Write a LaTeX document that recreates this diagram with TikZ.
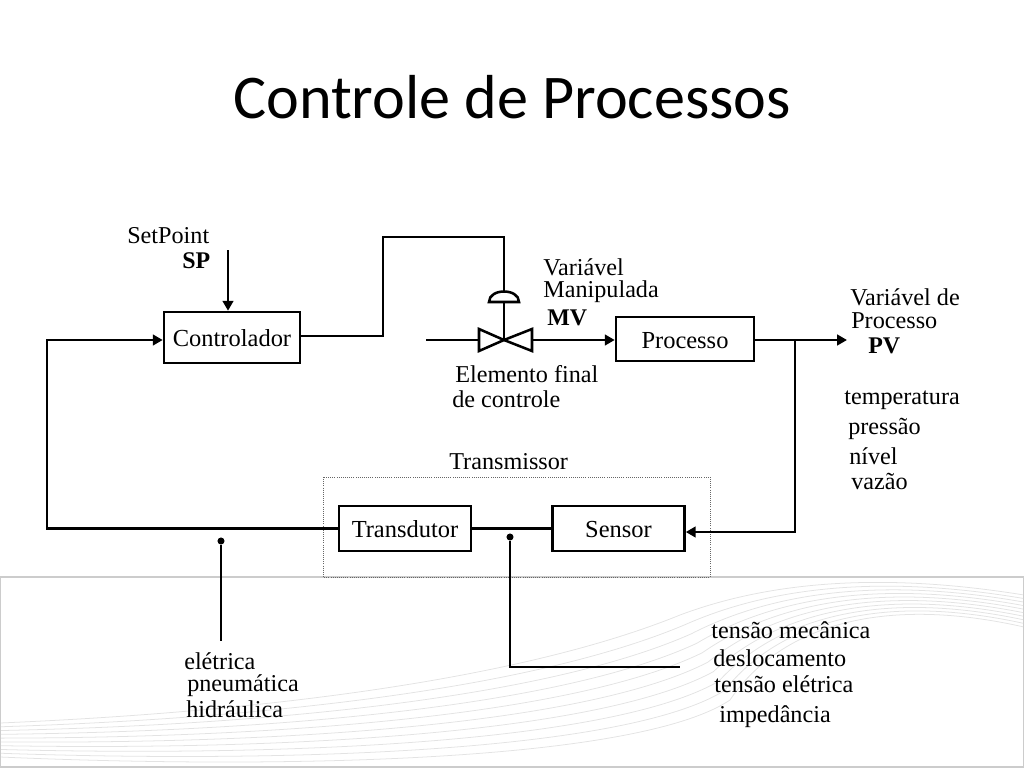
\documentclass[tikz,border=0pt]{standalone}
\usepackage{fontspec}
\setmainfont{Liberation Serif}
\newfontfamily\titlefont{Carlito}
\usetikzlibrary{arrows.meta}

\begin{document}
\begin{tikzpicture}[x=0.025cm, y=-0.025cm,
  line/.style={line width=1.8pt},
  flow/.style={line, -{Triangle[length=7pt,width=7.5pt]}},
  blockbox/.style={draw, line width=1.8pt, font=\fontsize{17.4}{17}\selectfont, text height=13.5pt, text depth=0pt, inner sep=0pt},
  txt/.style={anchor=base west, inner sep=0pt, font=\fontsize{17.2}{17}\selectfont},
  txtb/.style={txt, font=\fontsize{17}{17}\selectfont\bfseries},
  wave/.style={draw=black!11, line width=0.55pt},
  dot/.style={circle, fill=black, minimum size=5pt, inner sep=0pt}]
\useasboundingbox (0,0) rectangle (1024,768);

% background panel
\draw[black!20, line width=0.9pt] (0.5,577) rectangle (1023.5,767);
\begin{scope}
\clip (1,578) rectangle (1023,766);
\foreach \i in {0,...,9} {
  \pgfmathsetmacro{\t}{\i/9}
  \draw[wave] (0,723+34*\t) .. controls (260+40*\t,712+58*\t) and (520+120*\t,680+80*\t) .. (680+50*\t,615+85*\t)
    .. controls (760+10*\t,585+55*\t) and (870-10*\t,570+20*\t) .. (1024,595+32*\t);
}
\end{scope}

\node[font=\titlefont\fontsize{44.2}{44}\selectfont, anchor=base, inner sep=0pt] (title) at (512,119) {Controle de Processos};

% blocks
\node[blockbox, minimum width=3.4cm, minimum height=1.275cm] (ctrl) at (232,337.5) {Controlador};
\node[blockbox, minimum width=3.45cm, minimum height=1.1cm] (proc) at (685,339) {Processo};
\node[blockbox, minimum width=3.3cm, minimum height=1.125cm] (trans) at (405,528.5) {Transdutor};
\node[blockbox, minimum width=3.3cm, minimum height=1.125cm] (sens) at (618.5,528.5) {Sensor};
\draw[black!60, line width=0.5pt, densely dotted] (323,477) rectangle (710,577);

% valve
\coordinate (vc) at (504,340);
\coordinate (vl) at (479,340);
\coordinate (vr) at (532,340);
\coordinate (act) at (504,291);
\draw[line] (vc) -- (479,329) -- (479,351) -- cycle;
\draw[line] (vc) -- (532,329) -- (532,351) -- cycle;
\draw[line] (489,302) .. controls (489,288) and (519,288) .. (519,302) -- cycle;
\draw[line] (504,302) -- (vc);

% connectors
\coordinate (spin) at (228,250);
\coordinate (vin) at (426,340);
\coordinate (pvout) at (847,340);
\coordinate (pvtap) at (795,340);
\coordinate (fb) at (47,340);
\draw[flow] (spin) -- (spin |- ctrl.north);
\draw[line] (ctrl.east |- 0,336) -- (383,336) -- (383,237) -- (504,237) -- (act);
\draw[line] (vin) -- (vl);
\draw[flow] (vr) -- (proc.west |- vr);
\draw[flow] (proc.east |- pvtap) -- (pvout);
\draw[flow] (pvtap) -- (795,532) -- (sens.east |- 0,532);
\draw[line] (sens.west) -- (trans.east);
\draw[flow] (trans.west) -- (47,528.5) -- (fb) -- (ctrl.west |- fb);

% taps
\node[dot] (tapa) at (221,541) {};
\node[dot] (tapb) at (510,537) {};
\coordinate (tapaend) at (221,641);
\coordinate (tapbend) at (680,667);
\draw[line] (tapa) -- (tapaend);
\draw[line] (tapb) -- (510,667) -- (tapbend);

% labels
\node[txt] (sp1) at (127,243) {SetPoint};
\node[txtb] (sp2) at (182,268) {SP};
\node[txt] (mv1) at (543,275) {Variável};
\node[txt] (mv2) at (543,297) {Manipulada};
\node[txtb] (mv3) at (547,325) {MV};
\node[txt] (el1) at (455,382) {Elemento final};
\node[txt] (el2) at (452,407) {de controle};
\node[txt] (pv1) at (850,305) {Variável de};
\node[txt] (pv2) at (851,328) {Processo};
\node[txtb] (pv3) at (868,353) {PV};
\node[txt] (q1) at (844,404) {temperatura};
\node[txt] (q2) at (848,434) {pressão};
\node[txt] (q3) at (849,464) {nível};
\node[txt] (q4) at (851,489) {vazão};
\node[txt] (tx) at (449,469) {Transmissor};
\node[txt] (s1) at (711,638) {tensão mecânica};
\node[txt] (s2) at (713,666) {deslocamento};
\node[txt] (s3) at (714,692) {tensão elétrica};
\node[txt] (s4) at (719,722) {impedância};
\node[txt] (o1) at (184,669) {elétrica};
\node[txt] (o2) at (187,691) {pneumática};
\node[txt] (o3) at (186,717) {hidráulica};
\end{tikzpicture}
\end{document}
